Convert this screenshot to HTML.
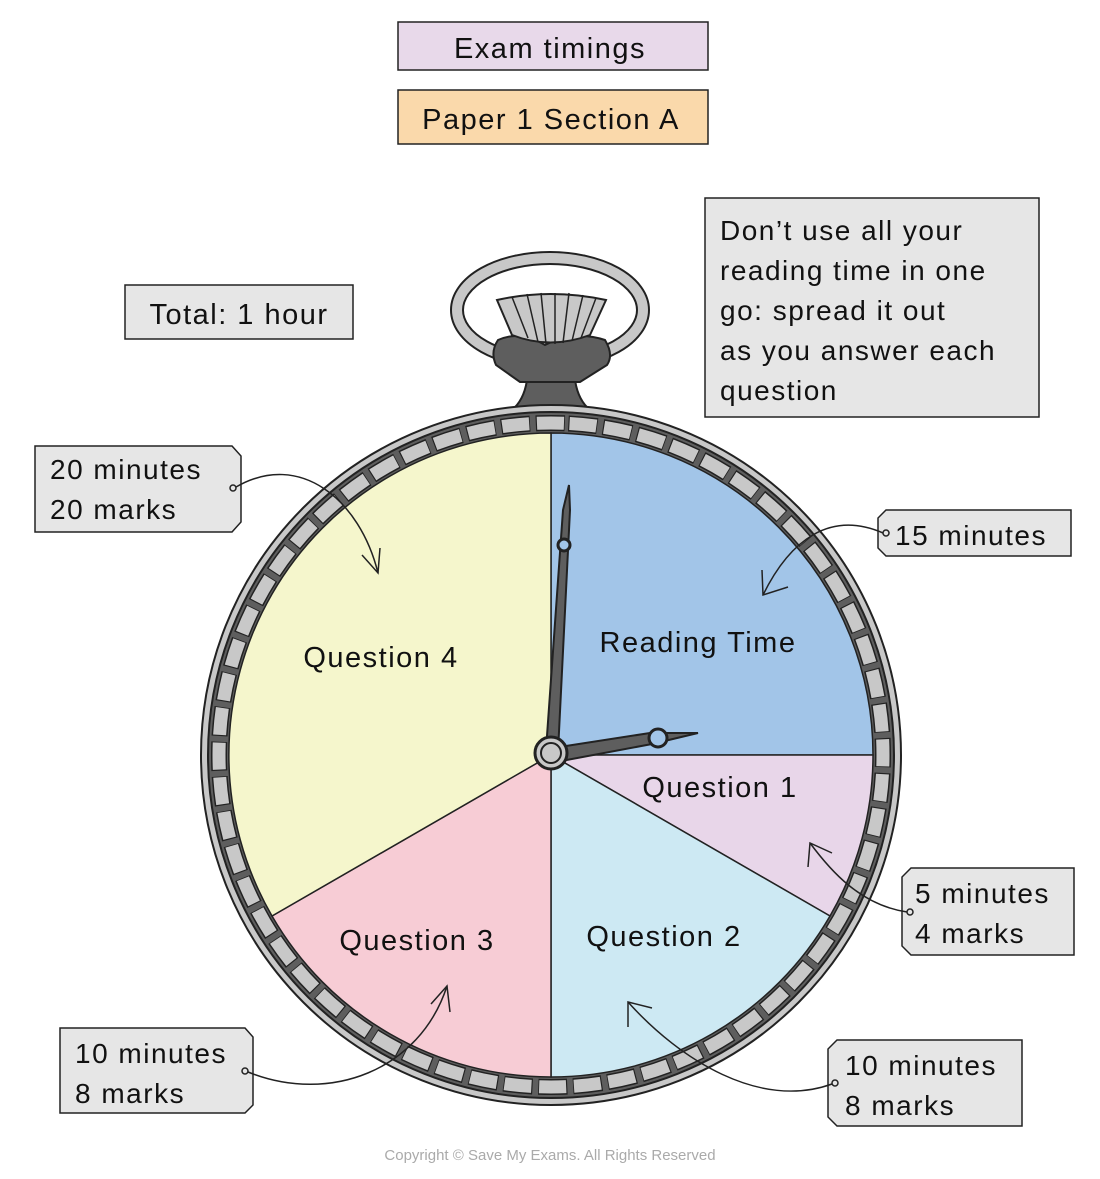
<!DOCTYPE html>
<html><head><meta charset="utf-8"><style>
body{margin:0;background:#fff;width:1100px;height:1174px;overflow:hidden}
svg text{font-family:"Liberation Sans",sans-serif;fill:#111}
</style></head><body>
<svg width="1100" height="1174" viewBox="0 0 1100 1174" xmlns="http://www.w3.org/2000/svg">
<rect x="398" y="22" width="310" height="48" fill="#e8d9ea" stroke="#222" stroke-width="1.5"/>
<text x="550" y="58" font-size="29" text-anchor="middle" letter-spacing="1.5">Exam timings</text>
<rect x="398" y="90" width="310" height="54" fill="#fad9ab" stroke="#222" stroke-width="1.5"/>
<text x="551" y="129" font-size="29" text-anchor="middle" letter-spacing="1.5">Paper 1 Section A</text>
<rect x="125" y="285" width="228" height="54" fill="#e6e6e6" stroke="#222" stroke-width="1.5"/>
<text x="239" y="324" font-size="29" text-anchor="middle" letter-spacing="1.5">Total: 1 hour</text>
<rect x="705" y="198" width="334" height="219" fill="#e6e6e6" stroke="#222" stroke-width="1.5"/>
<g font-size="28" letter-spacing="1.5">
<text x="720" y="240">Don’t use all your</text>
<text x="720" y="280">reading time in one</text>
<text x="720" y="320">go: spread it out</text>
<text x="720" y="360">as you answer each</text>
<text x="720" y="400">question</text>
</g>
<ellipse cx="550" cy="310" rx="93" ry="52" fill="none" stroke="#222" stroke-width="14"/>
<ellipse cx="550" cy="310" rx="93" ry="52" fill="none" stroke="#c8c8c8" stroke-width="10"/>
<path d="M527,380 L575,380 Q578,400 590,410 L512,410 Q524,400 527,380Z" fill="#5e5e5e" stroke="#222" stroke-width="2"/>
<path d="M498,340 Q520,330 545,345 Q575,330 605,340 Q614,355 607,365 L580,382 L520,382 L496,365 Q490,352 498,340Z" fill="#5e5e5e" stroke="#222" stroke-width="2"/>
<path d="M497,300 Q550,288 606,300 L590,335 Q550,350 512,335Z" fill="#c8c8c8" stroke="#222" stroke-width="2"/>
<g stroke="#222" stroke-width="1.5">
<line x1="512" y1="297" x2="528" y2="338"/><line x1="527" y1="294" x2="538" y2="342"/><line x1="541" y1="293" x2="546" y2="344"/><line x1="555" y1="293" x2="555" y2="344"/><line x1="569" y1="293" x2="563" y2="343"/><line x1="583" y1="295" x2="572" y2="341"/><line x1="596" y1="298" x2="581" y2="338"/>
</g>
<circle cx="551" cy="755" r="350" fill="#c8c8c8" stroke="#222" stroke-width="2"/>
<circle cx="551" cy="755" r="343" fill="#5e5e5e" stroke="#222" stroke-width="2"/>
<circle cx="551" cy="755" r="332" fill="none" stroke="#222" stroke-width="16" stroke-dasharray="29 5.8" transform="rotate(-87 551 755)"/>
<circle cx="551" cy="755" r="332" fill="none" stroke="#c8c8c8" stroke-width="13" stroke-dasharray="27 7.8" transform="rotate(-86.8 551 755)"/>
<g stroke="#222" stroke-width="1.5">
<path d="M551,755 L551,433 A322,322 0 0 1 873,755Z" fill="#a2c5e8"/>
<path d="M551,755 L873,755 A322,322 0 0 1 830,916Z" fill="#e8d6e9"/>
<path d="M551,755 L830,916 A322,322 0 0 1 551,1077Z" fill="#cde9f3"/>
<path d="M551,755 L551,1077 A322,322 0 0 1 272,916Z" fill="#f7ccd5"/>
<path d="M551,755 L272,916 A322,322 0 0 1 551,433Z" fill="#f5f6cc"/>
</g>
<g font-size="29" letter-spacing="1.5">
<text x="698" y="652" text-anchor="middle">Reading Time</text>
<text x="720" y="797" text-anchor="middle">Question 1</text>
<text x="664" y="946" text-anchor="middle">Question 2</text>
<text x="417" y="950" text-anchor="middle">Question 3</text>
<text x="381" y="667" text-anchor="middle">Question 4</text>
</g>
<path d="M546,750 L563,510 L569,485 L570,510 L558,752Z" fill="#5e5e5e" stroke="#222" stroke-width="2"/>
<circle cx="564" cy="545" r="6" fill="#a2c5e8" stroke="#222" stroke-width="3"/>
<path d="M553,748 L650,733 L698,733 L652,744 L556,762Z" fill="#5e5e5e" stroke="#222" stroke-width="2"/>
<circle cx="658" cy="738" r="9" fill="#a2c5e8" stroke="#222" stroke-width="3"/>
<circle cx="551" cy="753" r="16" fill="#c8c8c8" stroke="#222" stroke-width="3"/>
<circle cx="551" cy="753" r="10" fill="#c8c8c8" stroke="#222" stroke-width="2"/>
<path d="M35,446 H232 L241,456 V522 L232,532 H35Z" fill="#e6e6e6" stroke="#222" stroke-width="1.5"/>
<g font-size="28" letter-spacing="1.5"><text x="50" y="479">20 minutes</text><text x="50" y="519">20 marks</text></g>
<path d="M886,510 H1071 V556 H886 L878,548 V518Z" fill="#e6e6e6" stroke="#222" stroke-width="1.5"/>
<text x="895" y="545" font-size="28" letter-spacing="1.5">15 minutes</text>
<path d="M911,868 H1074 V955 H911 L902,946 V877Z" fill="#e6e6e6" stroke="#222" stroke-width="1.5"/>
<g font-size="28" letter-spacing="1.5"><text x="915" y="903">5 minutes</text><text x="915" y="943">4 marks</text></g>
<path d="M60,1028 H245 L253,1037 V1105 L245,1113 H60Z" fill="#e6e6e6" stroke="#222" stroke-width="1.5"/>
<g font-size="28" letter-spacing="1.5"><text x="75" y="1063">10 minutes</text><text x="75" y="1103">8 marks</text></g>
<path d="M837,1040 H1022 V1126 H837 L828,1117 V1049Z" fill="#e6e6e6" stroke="#222" stroke-width="1.5"/>
<g font-size="28" letter-spacing="1.5"><text x="845" y="1075">10 minutes</text><text x="845" y="1115">8 marks</text></g>
<g fill="none" stroke="#222" stroke-width="1.5">
<circle cx="233" cy="488" r="3"/><path d="M236,487 C300,450 360,500 378,573"/><path d="M362,555 L378,573 L380,548"/>
<circle cx="886" cy="533" r="3"/><path d="M883,533 C830,510 790,540 763,595"/><path d="M762,570 L763,595 L788,587"/>
<circle cx="910" cy="912" r="3"/><path d="M907,912 C860,905 830,870 810,843"/><path d="M808,867 L810,843 L832,853"/>
<circle cx="245" cy="1071" r="3"/><path d="M248,1072 C330,1105 420,1070 447,986"/><path d="M431,1004 L447,986 L450,1012"/>
<circle cx="835" cy="1083" r="3"/><path d="M832,1084 C760,1110 680,1060 628,1002"/><path d="M628,1027 L628,1002 L652,1008"/>
</g>
<text x="550" y="1160" font-size="15" style="fill:#aaa" text-anchor="middle">Copyright © Save My Exams. All Rights Reserved</text>
</svg>
</body></html>
